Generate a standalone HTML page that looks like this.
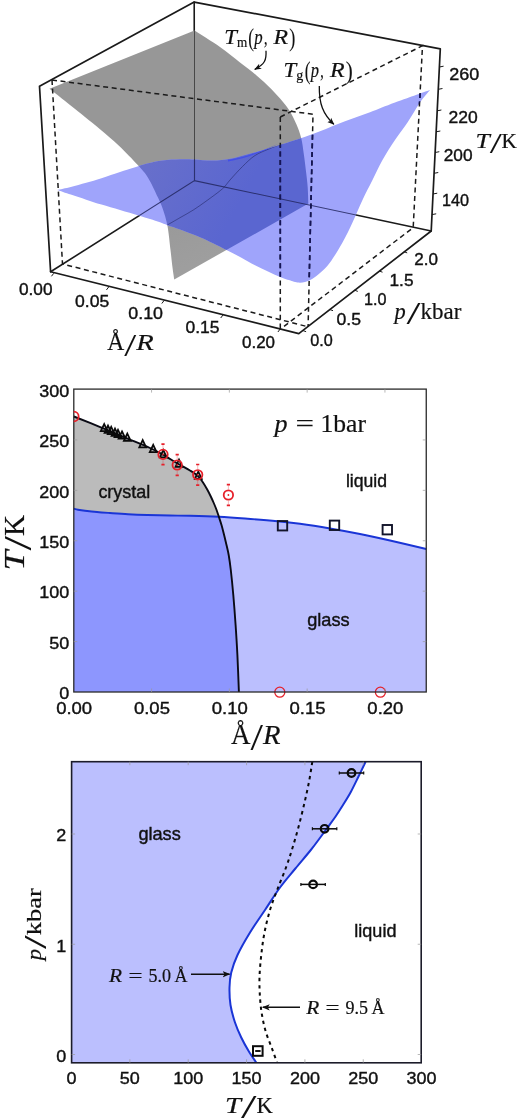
<!DOCTYPE html>
<html lang="en"><head><meta charset="utf-8"><title>Phase diagrams</title>
<style>html,body{margin:0;padding:0;background:#fff}svg{display:block}</style></head><body>
<svg width="520" height="1119" viewBox="0 0 520 1119">
<rect x="0" y="0" width="520" height="1119" fill="#ffffff"/>
<defs>
<clipPath id="blueclip"><path d="M57.2 190 C59.47 189.48 65.97 188.1 70.8 186.9 C75.63 185.7 81.08 184.25 86.2 182.8 C91.32 181.35 95.87 180 101.5 178.2 C107.13 176.4 114.67 173.73 120 172 C125.33 170.27 129 169.22 133.5 167.8 C138 166.38 142.17 164.73 147 163.5 C151.83 162.27 157 161.1 162.5 160.4 C168 159.7 174.67 159.45 180 159.3 C185.33 159.15 189.08 159.28 194.5 159.5 C199.92 159.72 206.58 160.72 212.5 160.6 C218.42 160.47 224.58 159.68 230 158.75 C235.42 157.82 240 156.29 245 155 C250 153.71 255 152.42 260 151 C265 149.58 268.33 148.58 275 146.5 C281.67 144.42 292.5 141.04 300 138.5 C307.5 135.96 312.5 134.12 320 131.25 C327.5 128.38 336.67 124.42 345 121.25 C353.33 118.08 361.67 115.33 370 112.2 C378.33 109.08 385 106.2 395 102.5 C405 98.8 424.17 92.08 430 90 C428.33 92.08 423.75 97.08 420 102.5 C416.25 107.92 411.67 116.25 407.5 122.5 C403.33 128.75 399.17 133.75 395 140 C390.83 146.25 386.25 153.33 382.5 160 C378.75 166.67 375.83 173.33 372.5 180 C369.17 186.67 365.83 192.92 362.5 200 C359.17 207.08 355.83 215.42 352.5 222.5 C349.17 229.58 346.25 235.83 342.5 242.5 C338.75 249.17 333.75 257.42 330 262.5 C326.25 267.58 322.92 270.29 320 273 C317.08 275.71 315 277.25 312.5 278.75 C310 280.25 307.5 281.38 305 282 C302.5 282.62 300.17 282.83 297.5 282.5 C294.83 282.17 290.42 280.42 289 280 C287.5 279.75 283.5 278.47 280 277 C276.5 275.53 272.17 273.45 268 271.5 C263.83 269.55 259.5 267.63 255 265.3 C250.5 262.97 245.58 259.98 241 257.5 C236.42 255.02 232.17 252.78 227.5 250.4 C222.83 248.02 217.58 245.4 213 243.2 C208.42 241 205.5 239.48 200 237.2 C194.5 234.92 185.42 231.5 180 229.5 C174.58 227.5 170.83 226.4 167.5 225.2 C164.17 224 162.92 223.33 160 222.3 C157.08 221.27 153.58 220.15 150 219 C146.42 217.85 143.5 216.9 138.5 215.4 C133.5 213.9 126.17 211.8 120 210 C113.83 208.2 107.13 206.32 101.5 204.6 C95.87 202.88 91.32 201.37 86.2 199.7 C81.08 198.03 75.63 196.22 70.8 194.6 C65.97 192.98 59.47 190.77 57.2 190 Z"/></clipPath>
<clipPath id="ax2"><rect x="73.75" y="389.5" width="352.5" height="302.5"/></clipPath>
<clipPath id="ax3"><rect x="71.25" y="761.75" width="350.5" height="300.75"/></clipPath>
<marker id="arr" viewBox="0 0 10 10" refX="9" refY="5" markerWidth="5.5" markerHeight="5.5" orient="auto"><path d="M0 1 L10 5 L0 9 L2.5 5 Z" fill="#111"/></marker>
<linearGradient id="gg" gradientUnits="userSpaceOnUse" x1="110" y1="60" x2="200" y2="285"><stop offset="0" stop-color="#979797"/><stop offset="0.6" stop-color="#979797"/><stop offset="1" stop-color="#a0a0a0"/></linearGradient>
<linearGradient id="dbg" gradientUnits="userSpaceOnUse" x1="150" y1="165" x2="235" y2="212"><stop offset="0" stop-color="#676fcb"/><stop offset="1" stop-color="#5a66d0"/></linearGradient>
</defs>
<g id="panel1">
<g stroke="#1a1a1a" stroke-width="1.6" fill="none" stroke-linecap="round">
<path d="M194.2 2.1 L194.5 180.6"/>
<path d="M50.6 271.8 L194.5 180.6 L431.2 231"/>
</g>
<path d="M174.25 279.5 C173.96 277.5 173.12 272.42 172.5 267.5 C171.88 262.58 171.33 256.92 170.5 250 C169.67 243.08 168.78 232.83 167.5 226 C166.22 219.17 164.43 213.83 162.8 209 C161.17 204.17 160.17 202.22 157.7 197 C155.23 191.78 151.37 183.07 148 177.7 C144.63 172.33 142.3 170.08 137.5 164.8 C132.7 159.52 125.45 151.93 119.2 146 C112.95 140.07 105.7 134.03 100 129.2 C94.3 124.37 90 121.03 85 117 C80 112.97 75.92 109.71 70 105 C64.08 100.29 52.92 91.46 49.5 88.75 L194.5 30.5 C198.75 33.25 212.42 41.67 220 47 C227.58 52.33 234 57.83 240 62.5 C246 67.17 250.75 70.55 256 75 C261.25 79.45 267 84.7 271.5 89.2 C276 93.7 279.92 98.28 283 102 C286.08 105.72 287.75 107.75 290 111.5 C292.25 115.25 294.63 120.08 296.5 124.5 C298.37 128.92 299.98 133.08 301.2 138 C302.42 142.92 302.95 148.03 303.8 154 C304.65 159.97 305.65 168.25 306.3 173.8 C306.95 179.35 307.35 182.33 307.7 187.3 C308.05 192.27 308.28 200.88 308.4 203.6 Z" fill="url(#gg)"/>
<path d="M57.2 190 C59.47 189.48 65.97 188.1 70.8 186.9 C75.63 185.7 81.08 184.25 86.2 182.8 C91.32 181.35 95.87 180 101.5 178.2 C107.13 176.4 114.67 173.73 120 172 C125.33 170.27 129 169.22 133.5 167.8 C138 166.38 142.17 164.73 147 163.5 C151.83 162.27 157 161.1 162.5 160.4 C168 159.7 174.67 159.45 180 159.3 C185.33 159.15 189.08 159.28 194.5 159.5 C199.92 159.72 206.58 160.72 212.5 160.6 C218.42 160.47 224.58 159.68 230 158.75 C235.42 157.82 240 156.29 245 155 C250 153.71 255 152.42 260 151 C265 149.58 268.33 148.58 275 146.5 C281.67 144.42 292.5 141.04 300 138.5 C307.5 135.96 312.5 134.12 320 131.25 C327.5 128.38 336.67 124.42 345 121.25 C353.33 118.08 361.67 115.33 370 112.2 C378.33 109.08 385 106.2 395 102.5 C405 98.8 424.17 92.08 430 90 C428.33 92.08 423.75 97.08 420 102.5 C416.25 107.92 411.67 116.25 407.5 122.5 C403.33 128.75 399.17 133.75 395 140 C390.83 146.25 386.25 153.33 382.5 160 C378.75 166.67 375.83 173.33 372.5 180 C369.17 186.67 365.83 192.92 362.5 200 C359.17 207.08 355.83 215.42 352.5 222.5 C349.17 229.58 346.25 235.83 342.5 242.5 C338.75 249.17 333.75 257.42 330 262.5 C326.25 267.58 322.92 270.29 320 273 C317.08 275.71 315 277.25 312.5 278.75 C310 280.25 307.5 281.38 305 282 C302.5 282.62 300.17 282.83 297.5 282.5 C294.83 282.17 290.42 280.42 289 280 C287.5 279.75 283.5 278.47 280 277 C276.5 275.53 272.17 273.45 268 271.5 C263.83 269.55 259.5 267.63 255 265.3 C250.5 262.97 245.58 259.98 241 257.5 C236.42 255.02 232.17 252.78 227.5 250.4 C222.83 248.02 217.58 245.4 213 243.2 C208.42 241 205.5 239.48 200 237.2 C194.5 234.92 185.42 231.5 180 229.5 C174.58 227.5 170.83 226.4 167.5 225.2 C164.17 224 162.92 223.33 160 222.3 C157.08 221.27 153.58 220.15 150 219 C146.42 217.85 143.5 216.9 138.5 215.4 C133.5 213.9 126.17 211.8 120 210 C113.83 208.2 107.13 206.32 101.5 204.6 C95.87 202.88 91.32 201.37 86.2 199.7 C81.08 198.03 75.63 196.22 70.8 194.6 C65.97 192.98 59.47 190.77 57.2 190 Z" fill="#9fa4fb"/>
<path d="M174.25 279.5 C173.96 277.5 173.12 272.42 172.5 267.5 C171.88 262.58 171.33 256.92 170.5 250 C169.67 243.08 168.78 232.83 167.5 226 C166.22 219.17 164.43 213.83 162.8 209 C161.17 204.17 160.17 202.22 157.7 197 C155.23 191.78 151.37 183.07 148 177.7 C144.63 172.33 142.3 170.08 137.5 164.8 C132.7 159.52 125.45 151.93 119.2 146 C112.95 140.07 105.7 134.03 100 129.2 C94.3 124.37 90 121.03 85 117 C80 112.97 75.92 109.71 70 105 C64.08 100.29 52.92 91.46 49.5 88.75 L194.5 30.5 C198.75 33.25 212.42 41.67 220 47 C227.58 52.33 234 57.83 240 62.5 C246 67.17 250.75 70.55 256 75 C261.25 79.45 267 84.7 271.5 89.2 C276 93.7 279.92 98.28 283 102 C286.08 105.72 287.75 107.75 290 111.5 C292.25 115.25 294.63 120.08 296.5 124.5 C298.37 128.92 299.98 133.08 301.2 138 C302.42 142.92 302.95 148.03 303.8 154 C304.65 159.97 305.65 168.25 306.3 173.8 C306.95 179.35 307.35 182.33 307.7 187.3 C308.05 192.27 308.28 200.88 308.4 203.6 Z" fill="url(#dbg)" clip-path="url(#blueclip)"/>
<path d="M194.5 30.5 L194.5 160" stroke="#3a3a3a" stroke-width="1" fill="none" opacity="0.85"/>
<g clip-path="url(#blueclip)" stroke="#23275f" stroke-width="1.1" fill="none" opacity="0.85">
<path d="M194.5 150 L194.5 180.6"/>
<path d="M50.6 271.8 L194.5 180.6 L431.2 231"/>
</g>
<path d="M283 143.5 C280.83 144.33 274.67 146.5 270 148.5 C265.33 150.5 259.58 152.5 255 155.5 C250.42 158.5 246.67 162.42 242.5 166.5 C238.33 170.58 233.33 176.29 230 180 C226.67 183.71 226.33 185.33 222.5 188.75 C218.67 192.17 211.87 196.96 207 200.5 C202.13 204.04 197.8 207.13 193.3 210 C188.8 212.87 184.33 215.2 180 217.7 C175.67 220.2 169.42 223.78 167.3 225" stroke="#20245e" stroke-width="0.9" fill="none" opacity="0.6" clip-path="url(#blueclip)"/>
<path d="M228 160 C242 158 258 153 278 144 C262 152 246 158.5 228 161.5 Z" fill="#3b47f0" opacity="0.8"/>
<g stroke="#1a1a1a" stroke-width="1.5" fill="none" stroke-dasharray="5 3.6">
<path d="M52 80 L313 114.2 L308.1 326.8"/>
<path d="M52 80 L62.5 264 L308.1 326.8"/>
<path d="M280.3 117 L280.3 329.2"/>
<path d="M280.3 117 L422.5 45.7 L413.2 227.6 L280.3 329.2"/>
</g>
<g stroke="#141458" stroke-width="1.7" fill="none" stroke-dasharray="5 3.6" clip-path="url(#blueclip)">
<path d="M52 80 L313 114.2 L308.1 326.8"/>
<path d="M52 80 L62.5 264 L308.1 326.8"/>
<path d="M280.3 117 L280.3 329.2"/>
<path d="M280.3 117 L422.5 45.7 L413.2 227.6 L280.3 329.2"/>
</g>
<g stroke="#1a1a1a" stroke-width="1.7" fill="none" stroke-linejoin="round" stroke-linecap="round">
<path d="M39.5 86.25 L194.2 2.1 L440.3 48.8 L431.2 231 L298.8 333.6 L50.6 271.8 Z"/>
</g>
<g stroke="#1a1a1a" stroke-width="1" fill="none">
<path d="M53.75 273.3 l-2.3 3"/>
<path d="M108.75 286.9 l-2.3 3"/>
<path d="M164.1 300.5 l-2.3 3"/>
<path d="M223 315 l-2.3 3"/>
<path d="M280.2 329 l-2.3 3"/>
<path d="M302.9 330.5 l3.2 1.2"/>
<path d="M329.8 309.5 l3.2 1.2"/>
<path d="M354.6 290.2 l3.2 1.2"/>
<path d="M379.3 271 l3.2 1.2"/>
<path d="M404 251.7 l3.2 1.2"/>
<path d="M439.39 67 l4.2 -0.8"/>
<path d="M438.27 89.3 l4.2 -0.8"/>
<path d="M437.19 110.8 l4.2 -0.8"/>
<path d="M436.14 131.8 l4.2 -0.8"/>
<path d="M435.1 152.5 l4.2 -0.8"/>
<path d="M434.06 173.3 l4.2 -0.8"/>
<path d="M433.02 194 l4.2 -0.8"/>
<path d="M431.99 214.6 l4.2 -0.8"/>
</g>
<text x="19" y="294.5" font-family='"Liberation Sans", sans-serif' font-size="17.2" fill="#111" textLength="33.5" lengthAdjust="spacingAndGlyphs" stroke="#111" stroke-width="0.4">0.00</text>
<text x="75" y="306.75" font-family='"Liberation Sans", sans-serif' font-size="17.2" fill="#111" textLength="34.2" lengthAdjust="spacingAndGlyphs" stroke="#111" stroke-width="0.4">0.05</text>
<text x="128.3" y="319.2" font-family='"Liberation Sans", sans-serif' font-size="17.2" fill="#111" textLength="34.7" lengthAdjust="spacingAndGlyphs" stroke="#111" stroke-width="0.4">0.10</text>
<text x="185.5" y="333.3" font-family='"Liberation Sans", sans-serif' font-size="17.2" fill="#111" textLength="34" lengthAdjust="spacingAndGlyphs" stroke="#111" stroke-width="0.4">0.15</text>
<text x="242" y="348" font-family='"Liberation Sans", sans-serif' font-size="17.2" fill="#111" textLength="33" lengthAdjust="spacingAndGlyphs" stroke="#111" stroke-width="0.4">0.20</text>
<text x="310.3" y="345.6" font-family='"Liberation Sans", sans-serif' font-size="17.2" fill="#111" textLength="22.5" lengthAdjust="spacingAndGlyphs" stroke="#111" stroke-width="0.4">0.0</text>
<text x="336.5" y="324.6" font-family='"Liberation Sans", sans-serif' font-size="17.2" fill="#111" textLength="24.5" lengthAdjust="spacingAndGlyphs" stroke="#111" stroke-width="0.4">0.5</text>
<text x="364" y="305.4" font-family='"Liberation Sans", sans-serif' font-size="17.2" fill="#111" textLength="22.5" lengthAdjust="spacingAndGlyphs" stroke="#111" stroke-width="0.4">1.0</text>
<text x="389.5" y="286.4" font-family='"Liberation Sans", sans-serif' font-size="17.2" fill="#111" textLength="24" lengthAdjust="spacingAndGlyphs" stroke="#111" stroke-width="0.4">1.5</text>
<text x="414.3" y="265.4" font-family='"Liberation Sans", sans-serif' font-size="17.2" fill="#111" textLength="23.7" lengthAdjust="spacingAndGlyphs" stroke="#111" stroke-width="0.4">2.0</text>
<text x="449.2" y="80" font-family='"Liberation Sans", sans-serif' font-size="17.2" fill="#111" textLength="30" lengthAdjust="spacingAndGlyphs" stroke="#111" stroke-width="0.4">260</text>
<text x="448.5" y="123.2" font-family='"Liberation Sans", sans-serif' font-size="17.2" fill="#111" textLength="29.2" lengthAdjust="spacingAndGlyphs" stroke="#111" stroke-width="0.4">220</text>
<text x="443.7" y="161.2" font-family='"Liberation Sans", sans-serif' font-size="17.2" fill="#111" textLength="28.8" lengthAdjust="spacingAndGlyphs" stroke="#111" stroke-width="0.4">200</text>
<text x="442" y="206.2" font-family='"Liberation Sans", sans-serif' font-size="17.2" fill="#111" textLength="27" lengthAdjust="spacingAndGlyphs" stroke="#111" stroke-width="0.4">140</text>
<text><tspan x="107.3" y="350.4" font-family='"Liberation Serif", serif' font-size="25.5" fill="#111" textLength="17" lengthAdjust="spacingAndGlyphs" stroke="#111" stroke-width="0.2">&#197;</tspan><tspan x="124.3" y="355.8" font-family='"Liberation Serif", serif' font-size="31.95" fill="#111" textLength="12" lengthAdjust="spacingAndGlyphs">/</tspan><tspan x="136.3" y="350.4" font-family='"Liberation Serif", serif' font-size="22.8" font-style="italic" fill="#111" textLength="17.5" lengthAdjust="spacingAndGlyphs" stroke="#111" stroke-width="0.2">R</tspan></text>
<text><tspan x="394.6" y="319" font-family='"Liberation Serif", serif' font-size="22.3" font-style="italic" fill="#111" textLength="11.2" lengthAdjust="spacingAndGlyphs" stroke="#111" stroke-width="0.2">p</tspan><tspan x="406.5" y="324.35" font-family='"Liberation Serif", serif' font-size="31.67" fill="#111" textLength="14" lengthAdjust="spacingAndGlyphs">/</tspan><tspan x="420.5" y="319" font-family='"Liberation Serif", serif' font-size="22.3" fill="#111" textLength="40.8" lengthAdjust="spacingAndGlyphs" stroke="#111" stroke-width="0.2">kbar</tspan></text>
<text><tspan x="475.5" y="148" font-family='"Liberation Serif", serif' font-size="20" font-style="italic" fill="#111" textLength="14.3" lengthAdjust="spacingAndGlyphs" stroke="#111" stroke-width="0.2">T</tspan><tspan x="489.8" y="152.92" font-family='"Liberation Serif", serif' font-size="29.11" fill="#111" textLength="12.2" lengthAdjust="spacingAndGlyphs">/</tspan><tspan x="501.5" y="148" font-family='"Liberation Serif", serif' font-size="20" fill="#111" textLength="15.3" lengthAdjust="spacingAndGlyphs" stroke="#111" stroke-width="0.2">K</tspan></text>
<text><tspan x="224.3" y="44.2" font-family='"Liberation Serif", serif' font-size="20" font-style="italic" fill="#111" textLength="12.7" lengthAdjust="spacingAndGlyphs" stroke="#111" stroke-width="0.2">T</tspan><tspan x="237" y="47.2" font-family='"Liberation Serif", serif' font-size="14" fill="#111" textLength="10.3" lengthAdjust="spacingAndGlyphs" stroke="#111" stroke-width="0.2">m</tspan><tspan x="248.3" y="46.15" font-family='"Liberation Serif", serif' font-size="24.96" fill="#111" textLength="5.7" lengthAdjust="spacingAndGlyphs" stroke="#111" stroke-width="0.1">(</tspan><tspan x="254.2" y="44.2" font-family='"Liberation Serif", serif' font-size="20" font-style="italic" fill="#111" textLength="8.4" lengthAdjust="spacingAndGlyphs" stroke="#111" stroke-width="0.2">p</tspan><tspan x="264" y="44.2" font-family='"Liberation Serif", serif' font-size="20" fill="#111" textLength="3.5" lengthAdjust="spacingAndGlyphs" stroke="#111" stroke-width="0.2">,</tspan> <tspan x="273.5" y="44.2" font-family='"Liberation Serif", serif' font-size="20" font-style="italic" fill="#111" textLength="14.5" lengthAdjust="spacingAndGlyphs" stroke="#111" stroke-width="0.2">R</tspan><tspan x="289.2" y="46.15" font-family='"Liberation Serif", serif' font-size="24.96" fill="#111" textLength="6.1" lengthAdjust="spacingAndGlyphs" stroke="#111" stroke-width="0.1">)</tspan></text>
<text><tspan x="283.5" y="76.8" font-family='"Liberation Serif", serif' font-size="20" font-style="italic" fill="#111" textLength="12.7" lengthAdjust="spacingAndGlyphs" stroke="#111" stroke-width="0.2">T</tspan><tspan x="296.2" y="79.8" font-family='"Liberation Serif", serif' font-size="14" fill="#111" textLength="7" lengthAdjust="spacingAndGlyphs" stroke="#111" stroke-width="0.2">g</tspan><tspan x="304.8" y="78.75" font-family='"Liberation Serif", serif' font-size="24.96" fill="#111" textLength="5.8" lengthAdjust="spacingAndGlyphs" stroke="#111" stroke-width="0.1">(</tspan><tspan x="310.8" y="76.8" font-family='"Liberation Serif", serif' font-size="20" font-style="italic" fill="#111" textLength="8.2" lengthAdjust="spacingAndGlyphs" stroke="#111" stroke-width="0.2">p</tspan><tspan x="320.2" y="76.8" font-family='"Liberation Serif", serif' font-size="20" fill="#111" textLength="3.5" lengthAdjust="spacingAndGlyphs" stroke="#111" stroke-width="0.2">,</tspan> <tspan x="330" y="76.8" font-family='"Liberation Serif", serif' font-size="20" font-style="italic" fill="#111" textLength="14.6" lengthAdjust="spacingAndGlyphs" stroke="#111" stroke-width="0.2">R</tspan><tspan x="345.8" y="78.75" font-family='"Liberation Serif", serif' font-size="24.96" fill="#111" textLength="7" lengthAdjust="spacingAndGlyphs" stroke="#111" stroke-width="0.1">)</tspan></text>
<g stroke="#111" stroke-width="1.3" fill="none">
<path d="M266 50.8 C266.5 60 265 64 254.8 69.3" marker-end="url(#arr)"/>
<path d="M319.3 86 C319 104 323 114 333.8 124.3" marker-end="url(#arr)"/>
</g>
</g>
<g id="panel2">
<path d="M73.85 416.5 C78.34 418.3 91.94 423.67 100.8 427.3 C109.66 430.93 118.8 434.85 127 438.3 C135.2 441.75 144.08 445.33 150 448 C155.92 450.67 157.92 451.72 162.5 454.3 C167.08 456.88 172.92 460.8 177.5 463.5 C182.08 466.2 186.58 468.42 190 470.5 C193.42 472.58 195.83 474 198 476 C200.17 478 201.42 480.17 203 482.5 C204.58 484.83 206.2 487.67 207.5 490 C208.8 492.33 209.76 494.33 210.8 496.5 C211.84 498.67 212.82 500.83 213.75 503 C214.68 505.17 215.57 507.25 216.4 509.5 C217.23 511.75 218.36 515.33 218.75 516.5 L218.75 516.8 L73.8 508.75 Z" fill="#bbbbbb"/>
<path d="M73.85 416.5 C78.34 418.3 91.94 423.67 100.8 427.3 C109.66 430.93 118.8 434.85 127 438.3 C135.2 441.75 144.08 445.33 150 448 C155.92 450.67 157.92 451.72 162.5 454.3 C167.08 456.88 172.92 460.8 177.5 463.5 C182.08 466.2 186.58 468.42 190 470.5 C193.42 472.58 195.83 474 198 476 C200.17 478 201.42 480.17 203 482.5 C204.58 484.83 206.2 487.67 207.5 490 C208.8 492.33 209.76 494.33 210.8 496.5 C211.84 498.67 212.82 500.83 213.75 503 C214.68 505.17 215.57 507.25 216.4 509.5 C217.23 511.75 218.36 515.33 218.75 516.5  C213.96 516.63 198.12 516.02 190 515.8 C181.88 515.58 177.08 515.63 170 515.5 C162.92 515.37 154.5 515.22 147.5 515 C140.5 514.78 134.25 514.53 128 514.2 C121.75 513.87 115.17 513.37 110 513 C104.83 512.63 101.17 512.38 97 512 C92.83 511.62 88.17 511.08 85 510.7 C81.83 510.32 79.88 510.02 78 509.7 C76.12 509.38 74.46 508.91 73.75 508.75 Z" fill="#bbbbbb"/>
<path d="M73.75 508.75 C74.46 508.91 76.12 509.38 78 509.7 C79.88 510.02 81.83 510.32 85 510.7 C88.17 511.08 92.83 511.62 97 512 C101.17 512.38 104.83 512.63 110 513 C115.17 513.37 121.75 513.87 128 514.2 C134.25 514.53 140.5 514.78 147.5 515 C154.5 515.22 162.92 515.37 170 515.5 C177.08 515.63 181.88 515.58 190 515.8 C198.12 516.02 213.96 516.63 218.75 516.8 C219.21 517.92 220.61 521.92 221.5 525 C222.39 528.08 223.27 531.67 224.1 535 C224.93 538.33 225.73 541.67 226.5 545 C227.27 548.33 227.98 550.83 228.7 555 C229.42 559.17 230.03 563.33 230.8 570 C231.57 576.67 232.5 585.83 233.3 595 C234.1 604.17 234.92 615 235.6 625 C236.28 635 236.85 643.83 237.4 655 C237.95 666.17 238.65 685.83 238.9 692 L238.75 692 L73.8 692 Z" fill="#8d96fe"/>
<path d="M238.9 692 C238.65 685.83 237.95 666.17 237.4 655 C236.85 643.83 236.28 635 235.6 625 C234.92 615 234.1 604.17 233.3 595 C232.5 585.83 231.57 576.67 230.8 570 C230.03 563.33 229.42 559.17 228.7 555 C227.98 550.83 227.27 548.33 226.5 545 C225.73 541.67 224.93 538.33 224.1 535 C223.27 531.67 222.39 528.08 221.5 525 C220.61 521.92 219.21 517.92 218.75 516.5 C223.12 517.08 235.21 517.77 245 518.5 C254.79 519.23 268.33 520.32 277.5 521.2 C286.67 522.08 291.25 522.58 300 523.8 C308.75 525.02 320 526.8 330 528.5 C340 530.2 350 532 360 534 C370 536 378.96 538 390 540.5 C401.04 543 420.21 547.58 426.25 549 L426.25 692 L238.75 692 Z" fill="#bbbffe"/>
<path d="M73.75 508.75 C74.46 508.91 76.12 509.38 78 509.7 C79.88 510.02 81.83 510.32 85 510.7 C88.17 511.08 92.83 511.62 97 512 C101.17 512.38 104.83 512.63 110 513 C115.17 513.37 121.75 513.87 128 514.2 C134.25 514.53 140.5 514.78 147.5 515 C154.5 515.22 162.92 515.37 170 515.5 C177.08 515.63 181.88 515.58 190 515.8 C198.12 516.02 209.58 516.35 218.75 516.8 C227.92 517.25 235.21 517.77 245 518.5 C254.79 519.23 268.33 520.32 277.5 521.2 C286.67 522.08 291.25 522.58 300 523.8 C308.75 525.02 320 526.8 330 528.5 C340 530.2 350 532 360 534 C370 536 378.96 538 390 540.5 C401.04 543 420.21 547.58 426.25 549" fill="none" stroke="#1a35d6" stroke-width="1.9"/>
<path d="M73.85 416.5 C78.34 418.3 91.94 423.67 100.8 427.3 C109.66 430.93 118.8 434.85 127 438.3 C135.2 441.75 144.08 445.33 150 448 C155.92 450.67 157.92 451.72 162.5 454.3 C167.08 456.88 172.92 460.8 177.5 463.5 C182.08 466.2 186.58 468.42 190 470.5 C193.42 472.58 195.83 474 198 476 C200.17 478 201.42 480.17 203 482.5 C204.58 484.83 206.2 487.67 207.5 490 C208.8 492.33 209.76 494.33 210.8 496.5 C211.84 498.67 212.82 500.83 213.75 503 C214.68 505.17 215.57 507.25 216.4 509.5 C217.23 511.75 217.9 513.92 218.75 516.5 C219.6 519.08 220.61 521.92 221.5 525 C222.39 528.08 223.27 531.67 224.1 535 C224.93 538.33 225.73 541.67 226.5 545 C227.27 548.33 227.98 550.83 228.7 555 C229.42 559.17 230.03 563.33 230.8 570 C231.57 576.67 232.5 585.83 233.3 595 C234.1 604.17 234.92 615 235.6 625 C236.28 635 236.85 643.83 237.4 655 C237.95 666.17 238.65 685.83 238.9 692" fill="none" stroke="#0a0a14" stroke-width="1.9"/>
<circle cx="279.8" cy="692.2" r="5" fill="none" stroke="#e6202a" stroke-width="1.3"/>
<circle cx="380.4" cy="692.2" r="5" fill="none" stroke="#e6202a" stroke-width="1.3"/>
<rect x="73.8" y="389.1" width="352.45" height="302.9" fill="none" stroke="#2a2a2a" stroke-width="1.3"/>
<g stroke="#999" stroke-width="0.7">
<path d="M73.8 641.59 h3.5 M426.25 641.59 h-3.5"/>
<path d="M73.8 591.17 h3.5 M426.25 591.17 h-3.5"/>
<path d="M73.8 540.75 h3.5 M426.25 540.75 h-3.5"/>
<path d="M73.8 490.34 h3.5 M426.25 490.34 h-3.5"/>
<path d="M73.8 439.93 h3.5 M426.25 439.93 h-3.5"/>
<path d="M151.55 692 v-3.5 M151.55 389.1 v3.5"/>
<path d="M229.35 692 v-3.5 M229.35 389.1 v3.5"/>
<path d="M307.15 692 v-3.5 M307.15 389.1 v3.5"/>
<path d="M384.95 692 v-3.5 M384.95 389.1 v3.5"/>
</g>
<g fill="none" stroke="#0a0a0a" stroke-width="1.8" stroke-linejoin="miter">
<path d="M104.2 424.02 L107.6 431.22 L100.8 431.22 Z"/>
<path d="M108 425.61 L111.4 432.81 L104.6 432.81 Z"/>
<path d="M111.2 426.96 L114.6 434.16 L107.8 434.16 Z"/>
<path d="M115 428.55 L118.4 435.75 L111.6 435.75 Z"/>
<path d="M118 429.81 L121.4 437.01 L114.6 437.01 Z"/>
<path d="M122 431.49 L125.4 438.69 L118.6 438.69 Z"/>
<path d="M127.3 433.72 L130.7 440.92 L123.9 440.92 Z"/>
<path d="M142.7 440.21 L146.1 447.41 L139.3 447.41 Z"/>
<path d="M153.2 444.9 L156.6 452.1 L149.8 452.1 Z"/>
<path d="M163.3 450.08 L166.7 457.28 L159.9 457.28 Z"/>
<path d="M179 459.63 L182.4 466.83 L175.6 466.83 Z"/>
<path d="M198.3 471.68 L201.7 478.88 L194.9 478.88 Z"/>
</g>
<g fill="none" stroke="#e6202a" stroke-width="1.8">
<circle cx="73.85" cy="416.5" r="4.8" clip-path="url(#ax2)"/>
<circle cx="163" cy="454.4" r="4.7"/>
<circle cx="163" cy="454.4" r="0.9" fill="#e6202a" stroke="none"/>
<path d="M163 448.6 v-4 M163 460.2 v4" stroke-width="0.7" opacity="0.45"/>
<path d="M161.4 444.1 h3.2 M161.4 464.7 h3.2" stroke-width="1.7"/>
<circle cx="177.2" cy="465" r="4.7"/>
<circle cx="177.2" cy="465" r="0.9" fill="#e6202a" stroke="none"/>
<path d="M177.2 459.2 v-4 M177.2 470.8 v4" stroke-width="0.7" opacity="0.45"/>
<path d="M175.6 454.7 h3.2 M175.6 475.3 h3.2" stroke-width="1.7"/>
<circle cx="197.7" cy="474.8" r="4.7"/>
<circle cx="197.7" cy="474.8" r="0.9" fill="#e6202a" stroke="none"/>
<path d="M197.7 469 v-4 M197.7 480.6 v4" stroke-width="0.7" opacity="0.45"/>
<path d="M196.1 464.5 h3.2 M196.1 485.1 h3.2" stroke-width="1.7"/>
<circle cx="228.4" cy="495" r="4.7"/>
<circle cx="228.4" cy="495" r="0.9" fill="#e6202a" stroke="none"/>
<path d="M228.4 489.2 v-4 M228.4 500.8 v4" stroke-width="0.7" opacity="0.45"/>
<path d="M226.8 484.7 h3.2 M226.8 505.3 h3.2" stroke-width="1.7"/>
</g>
<g fill="none" stroke="#12142a" stroke-width="1.9">
<rect x="277.8" y="521.05" width="9.4" height="9.4"/>
<rect x="329.8" y="520.6" width="9.4" height="9.4"/>
<rect x="382.6" y="525" width="9.4" height="9.4"/>
</g>
<text x="59.3" y="699.3" font-family='"Liberation Sans", sans-serif' font-size="17.2" fill="#111" textLength="10" lengthAdjust="spacingAndGlyphs" stroke="#111" stroke-width="0.4">0</text>
<text x="49.3" y="648.88" font-family='"Liberation Sans", sans-serif' font-size="17.2" fill="#111" textLength="20" lengthAdjust="spacingAndGlyphs" stroke="#111" stroke-width="0.4">50</text>
<text x="39.3" y="598.47" font-family='"Liberation Sans", sans-serif' font-size="17.2" fill="#111" textLength="30" lengthAdjust="spacingAndGlyphs" stroke="#111" stroke-width="0.4">100</text>
<text x="39.3" y="548.05" font-family='"Liberation Sans", sans-serif' font-size="17.2" fill="#111" textLength="30" lengthAdjust="spacingAndGlyphs" stroke="#111" stroke-width="0.4">150</text>
<text x="39.3" y="497.64" font-family='"Liberation Sans", sans-serif' font-size="17.2" fill="#111" textLength="30" lengthAdjust="spacingAndGlyphs" stroke="#111" stroke-width="0.4">200</text>
<text x="39.3" y="447.22" font-family='"Liberation Sans", sans-serif' font-size="17.2" fill="#111" textLength="30" lengthAdjust="spacingAndGlyphs" stroke="#111" stroke-width="0.4">250</text>
<text x="39.3" y="396.81" font-family='"Liberation Sans", sans-serif' font-size="17.2" fill="#111" textLength="30" lengthAdjust="spacingAndGlyphs" stroke="#111" stroke-width="0.4">300</text>
<text x="56.15" y="714.25" font-family='"Liberation Sans", sans-serif' font-size="17.2" fill="#111" textLength="36" lengthAdjust="spacingAndGlyphs" stroke="#111" stroke-width="0.4">0.00</text>
<text x="133.95" y="714.25" font-family='"Liberation Sans", sans-serif' font-size="17.2" fill="#111" textLength="36" lengthAdjust="spacingAndGlyphs" stroke="#111" stroke-width="0.4">0.05</text>
<text x="211.75" y="714.25" font-family='"Liberation Sans", sans-serif' font-size="17.2" fill="#111" textLength="36" lengthAdjust="spacingAndGlyphs" stroke="#111" stroke-width="0.4">0.10</text>
<text x="289.55" y="714.25" font-family='"Liberation Sans", sans-serif' font-size="17.2" fill="#111" textLength="36" lengthAdjust="spacingAndGlyphs" stroke="#111" stroke-width="0.4">0.15</text>
<text x="367.35" y="714.25" font-family='"Liberation Sans", sans-serif' font-size="17.2" fill="#111" textLength="36" lengthAdjust="spacingAndGlyphs" stroke="#111" stroke-width="0.4">0.20</text>
<text x="98.4" y="498" font-family='"Liberation Sans", sans-serif' font-size="17.8" fill="#111" textLength="51.9" lengthAdjust="spacingAndGlyphs" stroke="#111" stroke-width="0.4">crystal</text>
<text x="345.9" y="487" font-family='"Liberation Sans", sans-serif' font-size="17.8" fill="#111" textLength="41.1" lengthAdjust="spacingAndGlyphs" stroke="#111" stroke-width="0.4">liquid</text>
<text x="307.2" y="625.5" font-family='"Liberation Sans", sans-serif' font-size="17.8" fill="#111" textLength="42.4" lengthAdjust="spacingAndGlyphs" stroke="#111" stroke-width="0.4">glass</text>
<text><tspan x="274.5" y="431.7" font-family='"Liberation Serif", serif' font-size="24.5" font-style="italic" fill="#111" textLength="13" lengthAdjust="spacingAndGlyphs" stroke="#111" stroke-width="0.2">p</tspan> <tspan x="295.5" y="431.7" font-family='"Liberation Serif", serif' font-size="24.5" fill="#111" textLength="18.5" lengthAdjust="spacingAndGlyphs" stroke="#111" stroke-width="0.2">=</tspan> <tspan x="320.5" y="431.7" font-family='"Liberation Serif", serif' font-size="24.5" fill="#111" textLength="45.5" lengthAdjust="spacingAndGlyphs" stroke="#111" stroke-width="0.2">1bar</tspan></text>
<text><tspan x="231" y="743.75" font-family='"Liberation Serif", serif' font-size="28.5" fill="#111" textLength="19.5" lengthAdjust="spacingAndGlyphs" stroke="#111" stroke-width="0.2">&#197;</tspan><tspan x="250.5" y="749.99" font-family='"Liberation Serif", serif' font-size="36.92" fill="#111" textLength="12.5" lengthAdjust="spacingAndGlyphs">/</tspan><tspan x="263" y="743.75" font-family='"Liberation Serif", serif' font-size="26.3" font-style="italic" fill="#111" textLength="17.5" lengthAdjust="spacingAndGlyphs" stroke="#111" stroke-width="0.2">R</tspan></text>
<g transform="translate(23.8 570.5) rotate(-90)">
<text><tspan x="0" y="0" font-family='"Liberation Serif", serif' font-size="29.5" font-style="italic" fill="#111" textLength="20" lengthAdjust="spacingAndGlyphs" stroke="#111" stroke-width="0.2">T</tspan><tspan x="20" y="6.84" font-family='"Liberation Serif", serif' font-size="40.47" fill="#111" textLength="14.5" lengthAdjust="spacingAndGlyphs">/</tspan><tspan x="34.5" y="0" font-family='"Liberation Serif", serif' font-size="29.5" fill="#111" textLength="21" lengthAdjust="spacingAndGlyphs" stroke="#111" stroke-width="0.2">K</tspan></text>
</g>
</g>
<g id="panel3">
<path d="M365.6 761.75 C364.42 764.21 360.97 771.46 358.5 776.5 C356.03 781.54 353.38 787.25 350.8 792 C348.22 796.75 345.57 800.88 343 805 C340.43 809.12 337.95 812.98 335.4 816.7 C332.85 820.42 330.1 824 327.7 827.3 C325.3 830.6 323.82 832.72 321 836.5 C318.18 840.28 315.07 844.67 310.8 850 C306.53 855.33 300.53 862.25 295.4 868.5 C290.27 874.75 285.07 880.58 280 887.5 C274.93 894.42 270 902.5 265 910 C260 917.5 254.58 925 250 932.5 C245.42 940 240.62 948.33 237.5 955 C234.38 961.67 232.58 967.08 231.25 972.5 C229.92 977.92 229.62 982.08 229.5 987.5 C229.38 992.92 229.58 999.17 230.5 1005 C231.42 1010.83 233.21 1017.08 235 1022.5 C236.79 1027.92 238.96 1032.71 241.25 1037.5 C243.54 1042.29 246.25 1047.08 248.75 1051.25 C251.25 1055.42 255 1060.62 256.25 1062.5 L71.6 1062.8 L71.6 761.7 Z" fill="#bbbffe"/>
<path d="M365.6 761.75 C364.42 764.21 360.97 771.46 358.5 776.5 C356.03 781.54 353.38 787.25 350.8 792 C348.22 796.75 345.57 800.88 343 805 C340.43 809.12 337.95 812.98 335.4 816.7 C332.85 820.42 330.1 824 327.7 827.3 C325.3 830.6 323.82 832.72 321 836.5 C318.18 840.28 315.07 844.67 310.8 850 C306.53 855.33 300.53 862.25 295.4 868.5 C290.27 874.75 285.07 880.58 280 887.5 C274.93 894.42 270 902.5 265 910 C260 917.5 254.58 925 250 932.5 C245.42 940 240.62 948.33 237.5 955 C234.38 961.67 232.58 967.08 231.25 972.5 C229.92 977.92 229.62 982.08 229.5 987.5 C229.38 992.92 229.58 999.17 230.5 1005 C231.42 1010.83 233.21 1017.08 235 1022.5 C236.79 1027.92 238.96 1032.71 241.25 1037.5 C243.54 1042.29 246.25 1047.08 248.75 1051.25 C251.25 1055.42 255 1060.62 256.25 1062.5" fill="none" stroke="#1a35d6" stroke-width="2"/>
<path d="M312.3 761.75 C311.78 764.92 310.48 774.04 309.2 780.8 C307.92 787.56 306.38 794.6 304.6 802.3 C302.82 810 300.55 819.3 298.5 827 C296.45 834.7 294.35 841.83 292.3 848.5 C290.25 855.17 288.67 860.25 286.2 867 C283.73 873.75 280.2 881.83 277.5 889 C274.8 896.17 272.17 902.75 270 910 C267.83 917.25 265.96 925 264.5 932.5 C263.04 940 262.08 947.5 261.25 955 C260.42 962.5 259.71 970.42 259.5 977.5 C259.29 984.58 259.58 991.25 260 997.5 C260.42 1003.75 261 1009.17 262 1015 C263 1020.83 264.37 1027 266 1032.5 C267.63 1038 269.97 1043 271.8 1048 C273.63 1053 276.13 1060.08 277 1062.5" fill="none" stroke="#0a0a0a" stroke-width="2" stroke-dasharray="3.4 3.8"/>
<rect x="71.6" y="761.7" width="349.6" height="301.1" fill="none" stroke="#1c1c2a" stroke-width="1.6"/>
<g stroke="#999" stroke-width="0.7">
<path d="M129.85 1062.8 v-3.5 M129.85 761.7 v3.5"/>
<path d="M188.2 1062.8 v-3.5 M188.2 761.7 v3.5"/>
<path d="M246.55 1062.8 v-3.5 M246.55 761.7 v3.5"/>
<path d="M304.9 1062.8 v-3.5 M304.9 761.7 v3.5"/>
<path d="M363.25 1062.8 v-3.5 M363.25 761.7 v3.5"/>
<path d="M71.6 1054.5 h3.5 M421.2 1054.5 h-3.5"/>
<path d="M71.6 944.25 h3.5 M421.2 944.25 h-3.5"/>
<path d="M71.6 834 h3.5 M421.2 834 h-3.5"/>
</g>
<g fill="none" stroke="#0a0a0a">
<path d="M339.3 773 h24.4" stroke-width="1.5"/>
<path d="M339.3 771.5 v3 M363.7 771.5 v3" stroke-width="1.2"/>
<circle cx="351.5" cy="773" r="3.8" stroke-width="2.2"/>
<path d="M312.4 828.8 h24.4" stroke-width="1.5"/>
<path d="M312.4 827.3 v3 M336.8 827.3 v3" stroke-width="1.2"/>
<circle cx="324.6" cy="828.8" r="3.8" stroke-width="2.2"/>
<path d="M300.9 884.4 h24.4" stroke-width="1.5"/>
<path d="M300.9 882.9 v3 M325.3 882.9 v3" stroke-width="1.2"/>
<circle cx="313.1" cy="884.4" r="3.8" stroke-width="2.2"/>
<rect x="253" y="1046.2" width="9.6" height="9.6" stroke-width="2"/>
<path d="M255.2 1051 h5.4" stroke-width="1.9"/>
</g>
<g stroke="#111" stroke-width="1.4" fill="none">
<path d="M191 974.2 H229.6" marker-end="url(#arr)"/>
<path d="M300 1007.3 H262.8" marker-end="url(#arr)"/>
</g>
<text x="138.4" y="839.5" font-family='"Liberation Sans", sans-serif' font-size="17.8" fill="#111" textLength="42.4" lengthAdjust="spacingAndGlyphs" stroke="#111" stroke-width="0.4">glass</text>
<text x="354.3" y="937" font-family='"Liberation Sans", sans-serif' font-size="17.8" fill="#111" textLength="42.2" lengthAdjust="spacingAndGlyphs" stroke="#111" stroke-width="0.4">liquid</text>
<text><tspan x="109" y="981.5" font-family='"Liberation Serif", serif' font-size="18.5" font-style="italic" fill="#111" textLength="13" lengthAdjust="spacingAndGlyphs" stroke="#111" stroke-width="0.2">R</tspan> <tspan x="128.5" y="981.5" font-family='"Liberation Serif", serif' font-size="18.5" fill="#111" textLength="14" lengthAdjust="spacingAndGlyphs" stroke="#111" stroke-width="0.2">=</tspan> <tspan x="148.5" y="981.5" font-family='"Liberation Serif", serif' font-size="18.5" fill="#111" textLength="22.5" lengthAdjust="spacingAndGlyphs" stroke="#111" stroke-width="0.2">5.0</tspan> <tspan x="174.5" y="981.5" font-family='"Liberation Serif", serif' font-size="18.5" fill="#111" textLength="13" lengthAdjust="spacingAndGlyphs" stroke="#111" stroke-width="0.2">&#197;</tspan></text>
<text><tspan x="306.3" y="1014" font-family='"Liberation Serif", serif' font-size="18.5" font-style="italic" fill="#111" textLength="13" lengthAdjust="spacingAndGlyphs" stroke="#111" stroke-width="0.2">R</tspan> <tspan x="325.5" y="1014" font-family='"Liberation Serif", serif' font-size="18.5" fill="#111" textLength="14" lengthAdjust="spacingAndGlyphs" stroke="#111" stroke-width="0.2">=</tspan> <tspan x="345.5" y="1014" font-family='"Liberation Serif", serif' font-size="18.5" fill="#111" textLength="22.5" lengthAdjust="spacingAndGlyphs" stroke="#111" stroke-width="0.2">9.5</tspan> <tspan x="371.5" y="1014" font-family='"Liberation Serif", serif' font-size="18.5" fill="#111" textLength="13" lengthAdjust="spacingAndGlyphs" stroke="#111" stroke-width="0.2">&#197;</tspan></text>
<text x="66.5" y="1084.25" font-family='"Liberation Sans", sans-serif' font-size="17.2" fill="#111" textLength="10" lengthAdjust="spacingAndGlyphs" stroke="#111" stroke-width="0.4">0</text>
<text x="119.85" y="1084.25" font-family='"Liberation Sans", sans-serif' font-size="17.2" fill="#111" textLength="20" lengthAdjust="spacingAndGlyphs" stroke="#111" stroke-width="0.4">50</text>
<text x="173.2" y="1084.25" font-family='"Liberation Sans", sans-serif' font-size="17.2" fill="#111" textLength="30" lengthAdjust="spacingAndGlyphs" stroke="#111" stroke-width="0.4">100</text>
<text x="231.55" y="1084.25" font-family='"Liberation Sans", sans-serif' font-size="17.2" fill="#111" textLength="30" lengthAdjust="spacingAndGlyphs" stroke="#111" stroke-width="0.4">150</text>
<text x="289.9" y="1084.25" font-family='"Liberation Sans", sans-serif' font-size="17.2" fill="#111" textLength="30" lengthAdjust="spacingAndGlyphs" stroke="#111" stroke-width="0.4">200</text>
<text x="348.25" y="1084.25" font-family='"Liberation Sans", sans-serif' font-size="17.2" fill="#111" textLength="30" lengthAdjust="spacingAndGlyphs" stroke="#111" stroke-width="0.4">250</text>
<text x="406.6" y="1084.25" font-family='"Liberation Sans", sans-serif' font-size="17.2" fill="#111" textLength="30" lengthAdjust="spacingAndGlyphs" stroke="#111" stroke-width="0.4">300</text>
<text x="56.3" y="1061.9" font-family='"Liberation Sans", sans-serif' font-size="17.2" fill="#111" textLength="10" lengthAdjust="spacingAndGlyphs" stroke="#111" stroke-width="0.4">0</text>
<text x="56.3" y="951.65" font-family='"Liberation Sans", sans-serif' font-size="17.2" fill="#111" textLength="10" lengthAdjust="spacingAndGlyphs" stroke="#111" stroke-width="0.4">1</text>
<text x="56.3" y="841.4" font-family='"Liberation Sans", sans-serif' font-size="17.2" fill="#111" textLength="10" lengthAdjust="spacingAndGlyphs" stroke="#111" stroke-width="0.4">2</text>
<text><tspan x="225" y="1112.5" font-family='"Liberation Serif", serif' font-size="23.4" font-style="italic" fill="#111" textLength="16" lengthAdjust="spacingAndGlyphs" stroke="#111" stroke-width="0.2">T</tspan><tspan x="241" y="1118.12" font-family='"Liberation Serif", serif' font-size="33.23" fill="#111" textLength="15.5" lengthAdjust="spacingAndGlyphs">/</tspan><tspan x="256.5" y="1112.5" font-family='"Liberation Serif", serif' font-size="23.4" fill="#111" textLength="16.3" lengthAdjust="spacingAndGlyphs" stroke="#111" stroke-width="0.2">K</tspan></text>
<g transform="translate(40.8 960.3) rotate(-90)">
<text><tspan x="0" y="0" font-family='"Liberation Serif", serif' font-size="21.5" font-style="italic" fill="#111" textLength="11.3" lengthAdjust="spacingAndGlyphs" stroke="#111" stroke-width="0.2">p</tspan><tspan x="11.3" y="5.16" font-family='"Liberation Serif", serif' font-size="30.53" fill="#111" textLength="13.7" lengthAdjust="spacingAndGlyphs">/</tspan><tspan x="25" y="0" font-family='"Liberation Serif", serif' font-size="21.5" fill="#111" textLength="47" lengthAdjust="spacingAndGlyphs" stroke="#111" stroke-width="0.2">kbar</tspan></text>
</g>
</g>
</svg></body></html>
